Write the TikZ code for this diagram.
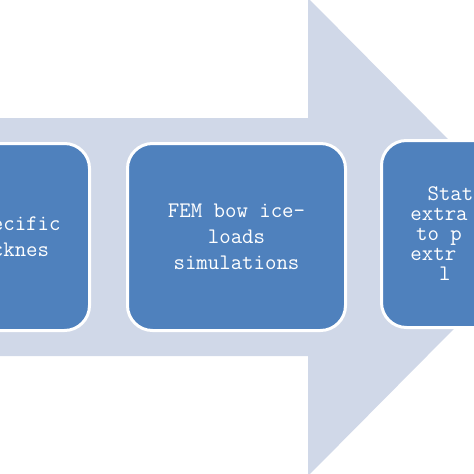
\documentclass[tikz,border=0pt]{standalone}
\usepackage{fontspec}
\definecolor{arrowgray}{HTML}{D0D8E8}
\definecolor{boxblue}{HTML}{4F81BD}

\begin{document}
\begin{tikzpicture}[x=1pt, y=-1pt,
    stage/.style={draw=white, line width=3pt, fill=boxblue, rounded corners=25pt,
                  minimum width=218pt, minimum height=187pt, inner sep=0pt,
                  text=white, align=center,
                  font=\ttfamily\fontsize{22.2}{26}\selectfont}]
  \useasboundingbox (0,0) rectangle (474,474);
  \fill[white] (0,0) rectangle (474,474);
  \clip (0,0) rectangle (474,474);

  % big background arrow
  \fill[arrowgray] (-5,118) -- (308,118) -- (308,-2) -- (545,237)
                   -- (308,476) -- (308,356) -- (-5,356) -- cycle;

  \node[stage] (thick) at (-19.5,237)
    { \hphantom{xxxxxxxx}ecific \\ \hphantom{xxxxxxx}cknes };
  \node[stage] (fem) at (236.5,237)
    { FEM bow ice- \\ loads \\ simulations };
  \node[stage, font=\ttfamily\fontsize{22.2}{20}\selectfont] (stat) at (490.5,234)
    { Stat\hphantom{xxxxxxx} \\ extra\hphantom{xxxxxxxxx} \\ to p\hphantom{xxxxxxxxx}
      \\ extr\hphantom{xxxxxxxxxx} \\ l\hphantom{xxxxxxxx} };
\end{tikzpicture}
\end{document}
